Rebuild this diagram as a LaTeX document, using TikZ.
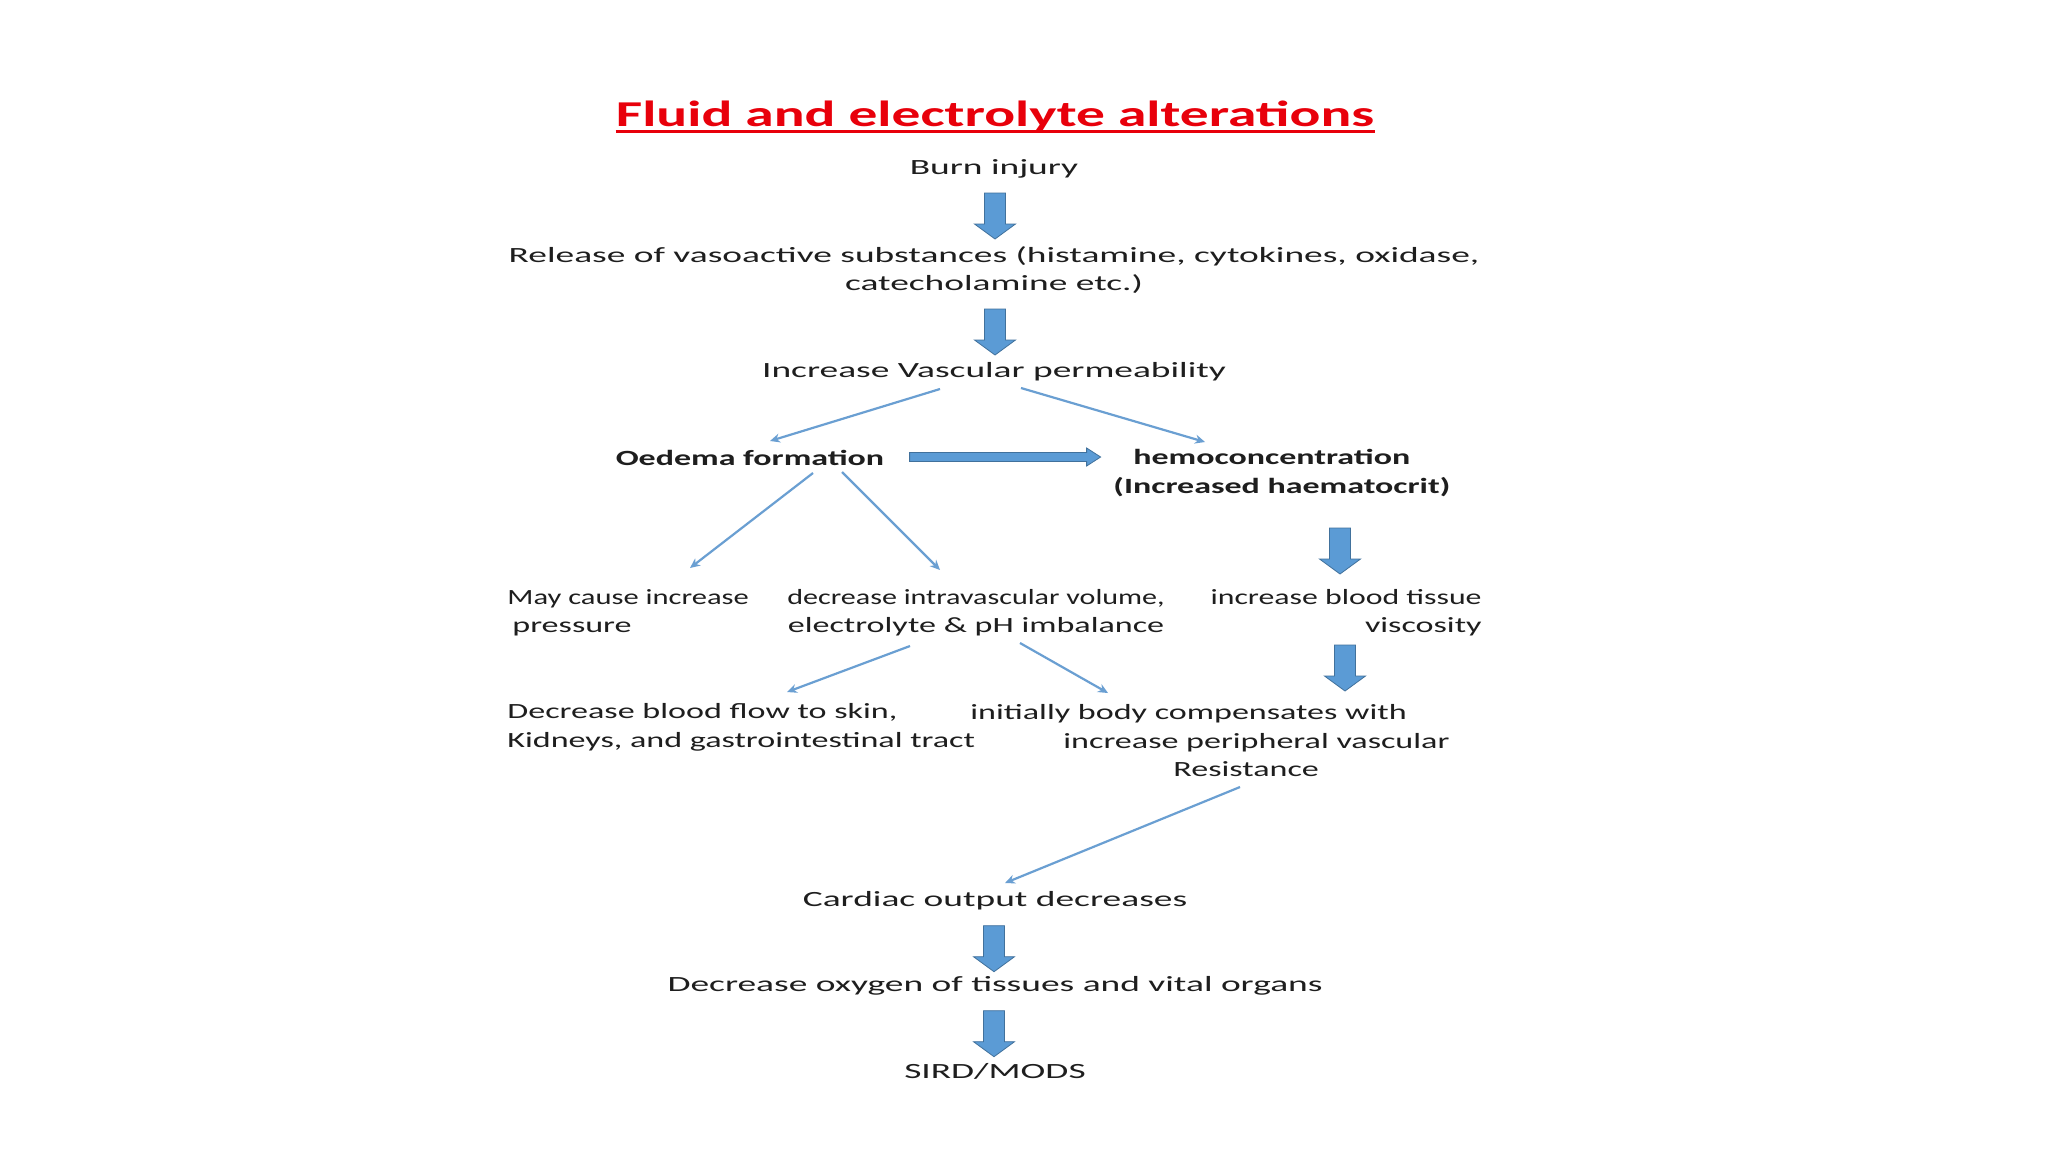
\documentclass[tikz,border=0pt]{standalone}
\usepackage{fontspec}
\usepackage{graphicx}
\setmainfont{Carlito}[FakeStretch=1.725]
\newfontfamily\midfont{Carlito}[FakeStretch=1.57]
\newfontfamily\boldfam{Carlito}[FakeStretch=1.565]
\newfontfamily\titlefam{Carlito}[FakeStretch=1.58]
\usetikzlibrary{arrows.meta,calc}
\definecolor{blk}{HTML}{5B9BD5}
\definecolor{blkedge}{HTML}{41719C}
\definecolor{thinblue}{HTML}{6A9FD2}
\definecolor{titlered}{HTML}{E8000B}
\definecolor{ink}{HTML}{1E1E1E}
\tikzset{
  txt/.style={font=\fontsize{10.85}{14.25}\selectfont, text=ink, inner sep=0pt, anchor=base},
  midtxt/.style={txt, font=\midfont\fontsize{10.85}{14.25}\selectfont},
  boldtxt/.style={txt, font=\boldfam\bfseries\fontsize{10.85}{14.25}\selectfont},
  thinarrow/.style={draw=thinblue, line width=1.1pt, -{Stealth[length=5pt,width=4.5pt]}},
  blockarrow/.style={fill=blk, draw=blkedge, line width=0.4pt},
}
\newcommand\blkdown[1]{\path[blockarrow] #1 ++(-10.5,0) -- ++(21,0) -- ++(0,31) -- ++(10,0) -- ++(-20.5,15) -- ++(-20.5,-15) -- ++(10,0) -- cycle;}
\begin{document}
\begin{tikzpicture}[x=0.5pt,y=-0.5pt]
\useasboundingbox[fill=white] (0,0) rectangle (2048,1152);
% title
\node[anchor=base, inner sep=0pt, text=titlered, font=\titlefam\bfseries\fontsize{18.2}{22}\selectfont] (title) at (995,126) {Fluid and electrolyte alterations};
\draw[titlered, line width=1.65pt] ($(title.base west)+(0,5.7)$) -- ($(title.base east)+(0,5.7)$);
% nodes (base = baseline of the last line)
\node[txt] (burn) at (994,174) {Burn injury};
\node[txt, align=center] (rel) at (994,290.7) {Release of vasoactive substances (histamine, cytokines, oxidase,\\catecholamine etc.)};
\node[txt] (ivp) at (994,377.7) {Increase Vascular permeability};
\node[boldtxt] (oed) at (750,465) {Oedema formation};
\node[boldtxt, anchor=base west, align=left] (hemo) at (1113,493) {\hspace*{10pt}hemoconcentration\\(Increased haematocrit)};
\node[midtxt, anchor=base west, align=left] (may) at (507,632.7) {\scalebox{0.896}[1]{May cause increase}\\\hspace*{2.5pt}pressure};
\node[midtxt, align=center] (div) at (976,632.7) {\scalebox{0.882}[1]{decrease intravascular volume,}\\electrolyte \& pH imbalance};
\node[midtxt, anchor=base east, align=right] (ibt) at (1482,632.7) {\scalebox{0.933}[1]{increase blood tissue}\\viscosity};
\node[midtxt, anchor=base west, align=left] (dbf) at (507,747.3) {Decrease blood flow to skin,\\Kidneys, and gastrointestinal tract};
\node[midtxt, anchor=base west, align=left] (ibc) at (970,776.7) {initially body compensates with\\\hspace*{46.5pt}increase peripheral vascular\\\hspace*{101.5pt}Resistance};
\node[txt] (cod) at (995,906.7) {Cardiac output decreases};
\node[txt] (dox) at (995,991.7) {Decrease oxygen of tissues and vital organs};
\node[txt] (sird) at (995,1078.3) {SIRD/MODS};
% block arrows
\blkdown{($(burn.base)+(1,19)$)}
\blkdown{($(rel.base)+(1,18.3)$)}
\blkdown{($(hemo.base west)+(227,35)$)}
\blkdown{($(ibt.base east)+(-137,12.3)$)}
\blkdown{($(cod.base)+(-1,19)$)}
\blkdown{($(dox.base)+(-1,19)$)}
\path[blockarrow] ($(oed.base east)+(25,-12.5)$) -- ++(177,0) -- ++(0,-4.5) -- ++(14,9) -- ++(-14,9) -- ++(0,-4.5) -- ++(-177,0) -- cycle;
% thin arrows
\draw[thinarrow] ($(ivp.base)+(-54,11.3)$) -- ($(oed.base)+(20,-24)$);
\draw[thinarrow] ($(ivp.base)+(27,10.3)$) -- ($(hemo.base west)+(92,-51)$);
\draw[thinarrow] ($(oed.base)+(63,8)$) -- ($(may.base west)+(183,-64.7)$);
\draw[thinarrow] ($(oed.base)+(92,7)$) -- ($(div.base)+(-36,-62.7)$);
\draw[thinarrow] ($(div.base)+(-66,13.3)$) -- ($(dbf.base west)+(280,-55.3)$);
\draw[thinarrow] ($(div.base)+(44,10.3)$) -- ($(ibc.base west)+(138,-83.7)$);
\draw[thinarrow] ($(ibc.base west)+(270,10.3)$) -- ($(cod.base)+(10,-23.7)$);
\end{tikzpicture}
\end{document}
